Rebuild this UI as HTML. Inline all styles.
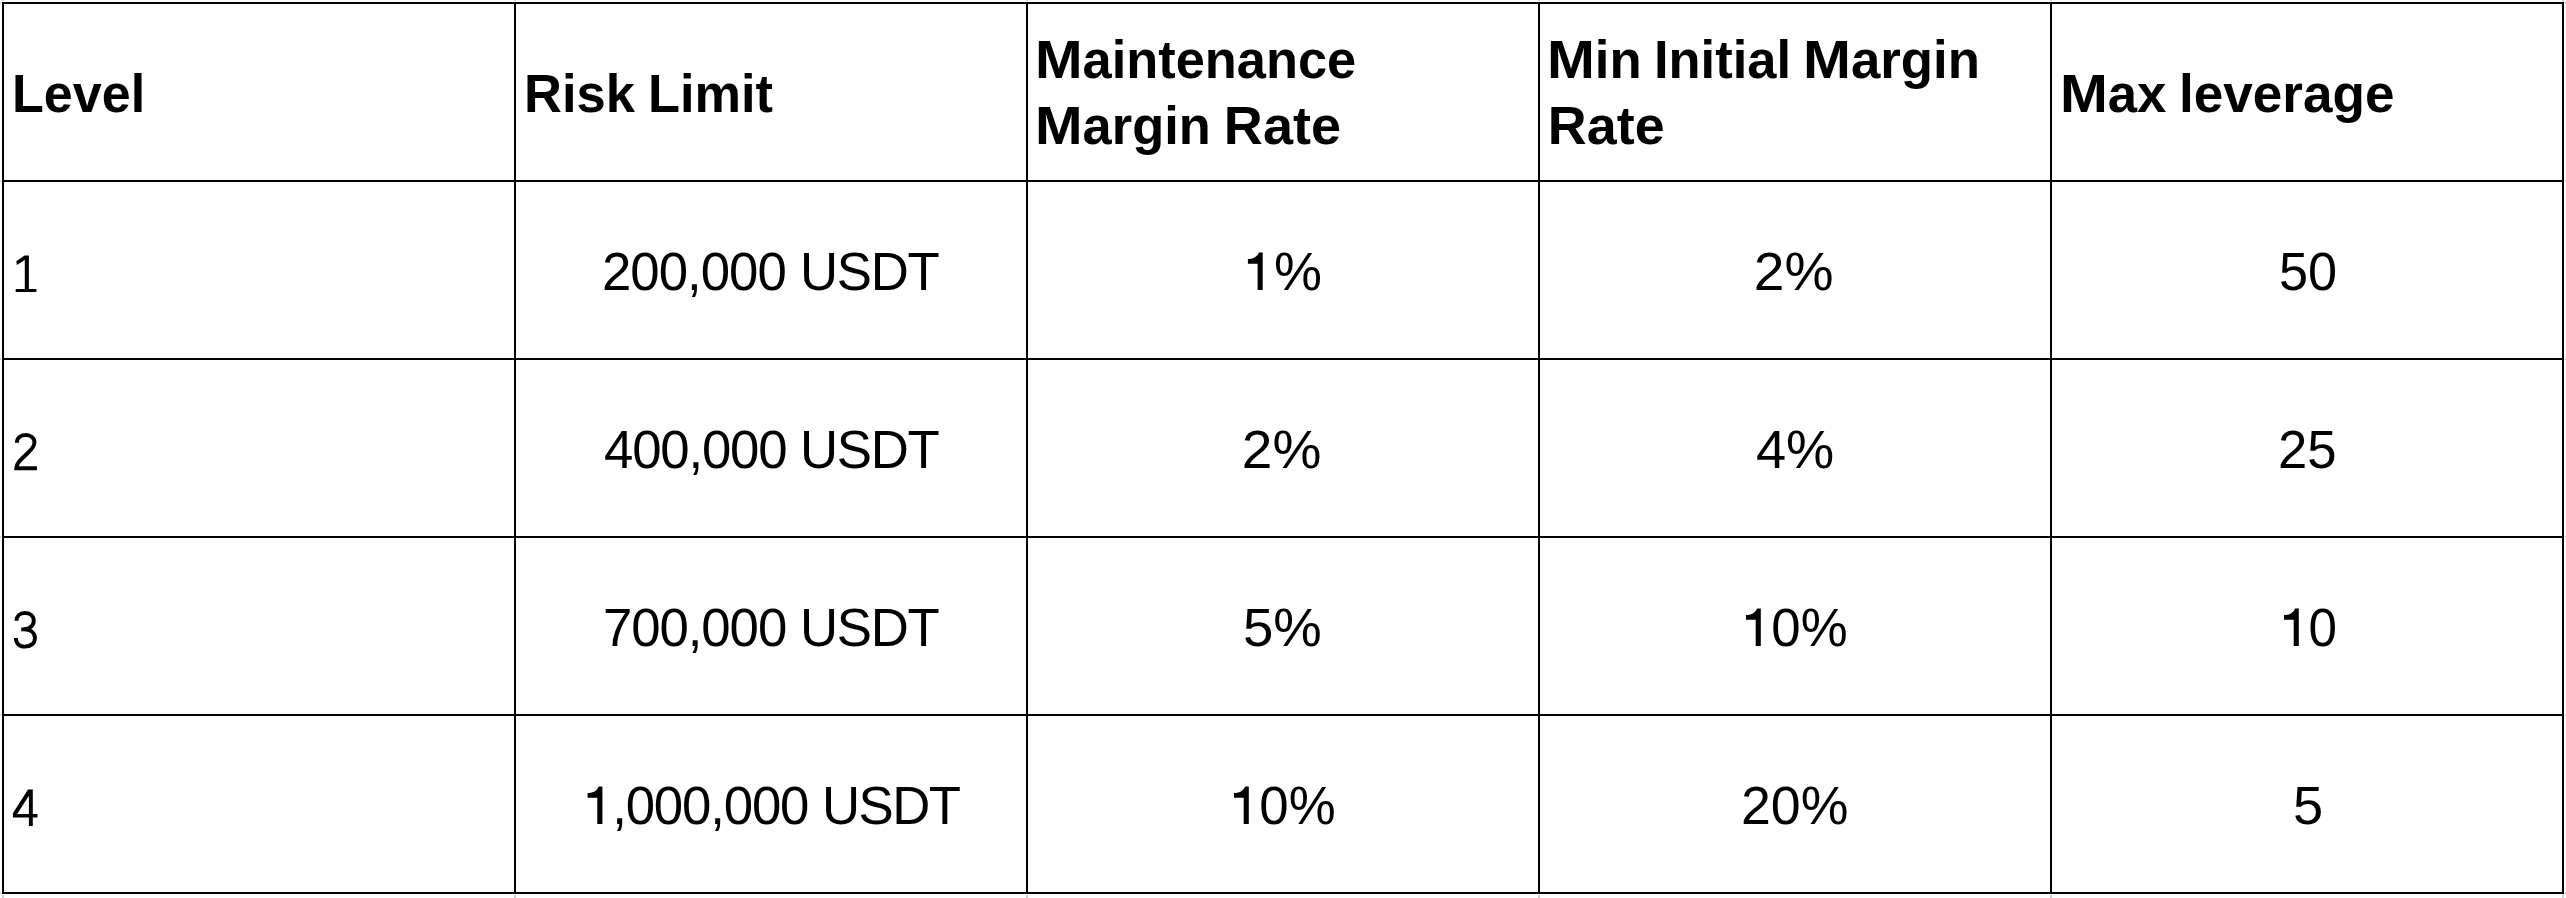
<!DOCTYPE html>
<html><head><meta charset="utf-8"><title>Risk limit table</title>
<style>
html,body{margin:0;padding:0;background:#fff;}
body{width:2566px;height:898px;position:relative;overflow:hidden;font-family:"Liberation Sans",sans-serif;color:#000;}
.l{position:absolute;background:#000;}
.g{position:absolute;background:#d0d0d0;}
.t{position:absolute;white-space:nowrap;line-height:60px;font-size:52px;}
.b{font-weight:bold;}
.M{display:inline-block;transform:scaleX(1.09);transform-origin:0 0;margin-right:3.9px;}
.r{font-weight:normal;}
.dg{position:absolute;left:0;top:0;}
.h{color:transparent;}
</style></head><body>
<div class="l" style="left:2px;top:2px;width:2px;height:892px"></div>
<div class="l" style="left:514px;top:2px;width:2px;height:892px"></div>
<div class="l" style="left:1026px;top:2px;width:2px;height:892px"></div>
<div class="l" style="left:1538px;top:2px;width:2px;height:892px"></div>
<div class="l" style="left:2050px;top:2px;width:2px;height:892px"></div>
<div class="l" style="left:2562px;top:2px;width:2px;height:892px"></div>
<div class="l" style="left:2px;top:2px;width:2562px;height:2px"></div>
<div class="l" style="left:2px;top:180px;width:2562px;height:2px"></div>
<div class="l" style="left:2px;top:358px;width:2562px;height:2px"></div>
<div class="l" style="left:2px;top:536px;width:2562px;height:2px"></div>
<div class="l" style="left:2px;top:714px;width:2562px;height:2px"></div>
<div class="l" style="left:2px;top:892px;width:2562px;height:2px"></div>
<div class="g" style="left:2px;top:0;width:2px;height:1px"></div>
<div class="g" style="left:2px;top:895px;width:2px;height:3px"></div>
<div class="g" style="left:514px;top:0;width:2px;height:1px"></div>
<div class="g" style="left:514px;top:895px;width:2px;height:3px"></div>
<div class="g" style="left:1026px;top:0;width:2px;height:1px"></div>
<div class="g" style="left:1026px;top:895px;width:2px;height:3px"></div>
<div class="g" style="left:1538px;top:0;width:2px;height:1px"></div>
<div class="g" style="left:1538px;top:895px;width:2px;height:3px"></div>
<div class="g" style="left:2050px;top:0;width:2px;height:1px"></div>
<div class="g" style="left:2050px;top:895px;width:2px;height:3px"></div>
<div class="g" style="left:2562px;top:0;width:2px;height:1px"></div>
<div class="g" style="left:2562px;top:895px;width:2px;height:3px"></div>
<div class="g" style="left:0;top:2px;width:1px;height:2px"></div>
<div class="g" style="left:2565px;top:2px;width:1px;height:2px"></div>
<div class="g" style="left:0;top:180px;width:1px;height:2px"></div>
<div class="g" style="left:2565px;top:180px;width:1px;height:2px"></div>
<div class="g" style="left:0;top:358px;width:1px;height:2px"></div>
<div class="g" style="left:2565px;top:358px;width:1px;height:2px"></div>
<div class="g" style="left:0;top:536px;width:1px;height:2px"></div>
<div class="g" style="left:2565px;top:536px;width:1px;height:2px"></div>
<div class="g" style="left:0;top:714px;width:1px;height:2px"></div>
<div class="g" style="left:2565px;top:714px;width:1px;height:2px"></div>
<div class="g" style="left:0;top:892px;width:1px;height:2px"></div>
<div class="g" style="left:2565px;top:892px;width:1px;height:2px"></div>
<div class="t b" style="left:11.70px;top:64px;transform-origin:3.50px 48px;transform:translateY(-0.10px) scale(1.0012,1.03);">Level</div>
<div class="t b" style="left:523.60px;top:64px;transform-origin:3.50px 48px;transform:translateY(-0.10px) scale(1.0099,1.03);">Risk</div>
<div class="t b" style="left:647.50px;top:64px;transform-origin:3.50px 48px;transform:translateY(-0.10px) scale(1.0058,1.03);">Limit</div>
<div class="t b" style="left:1035.25px;top:30px;transform-origin:3.75px 48px;transform:translateY(0.00px) scale(1.0075,1.03);"><span class="M">M</span>aintenance</div>
<div class="t b" style="left:1035.25px;top:96px;transform-origin:3.75px 48px;transform:translateY(0.10px) scale(1.0081,1.03);"><span class="M">M</span>argin</div>
<div class="t b" style="left:1223.70px;top:96px;transform-origin:3.50px 48px;transform:translateY(0.10px) scale(1.0391,1.03);">Rate</div>
<div class="t b" style="left:1547.15px;top:30px;transform-origin:3.75px 48px;transform:translateY(0.00px) scale(1.0139,1.03);"><span class="M">M</span>in</div>
<div class="t b" style="left:1653.70px;top:30px;transform-origin:3.50px 48px;transform:translateY(0.00px) scale(1.0093,1.03);">Initial</div>
<div class="t b" style="left:1803.15px;top:30px;transform-origin:3.75px 48px;transform:translateY(0.00px) scale(1.0152,1.03);"><span class="M">M</span>argin</div>
<div class="t b" style="left:1547.90px;top:96px;transform-origin:3.50px 48px;transform:translateY(0.10px) scale(1.0363,1.03);">Rate</div>
<div class="t b" style="left:2059.65px;top:64px;transform-origin:3.75px 48px;transform:translateY(-0.10px) scale(1.0134,1.03);"><span class="M">M</span>ax</div>
<div class="t b" style="left:2178.85px;top:64px;transform-origin:3.75px 48px;transform:translateY(-0.10px) scale(1.0214,1.03);">leverage</div>
<div class="t r" style="left:602.40px;top:242px;transform-origin:2.50px 48px;transform:translateY(-0.10px) scale(1.0150,1.045);letter-spacing:-0.977px;">200,000</div>
<div class="t r" style="left:799.50px;top:242px;transform-origin:4.00px 48px;transform:translateY(-0.10px) scale(1.0150,1.045);letter-spacing:-1.296px;">USDT</div>
<div class="t r" style="left:1243.90px;top:242px;transform-origin:4.00px 48px;transform:translateY(-0.10px) scale(1.0383,1.045);"><span class="h">1</span>%</div>
<div class="t r" style="left:1754.30px;top:242px;transform-origin:2.50px 48px;transform:translateY(-0.10px) scale(1.0615,1.045);">2%</div>
<div class="t r" style="left:2279.00px;top:242px;transform-origin:2.00px 48px;transform:translateY(-0.10px) scale(1.0047,1.045);">50</div>
<div class="t r" style="left:603.65px;top:420px;transform-origin:1.25px 48px;transform:translateY(-0.10px) scale(1.0150,1.045);letter-spacing:-1.186px;">400,000</div>
<div class="t r" style="left:799.50px;top:420px;transform-origin:4.00px 48px;transform:translateY(-0.10px) scale(1.0150,1.045);letter-spacing:-1.296px;">USDT</div>
<div class="t r" style="left:1242.40px;top:420px;transform-origin:2.50px 48px;transform:translateY(-0.10px) scale(1.0587,1.045);">2%</div>
<div class="t r" style="left:1755.75px;top:420px;transform-origin:1.25px 48px;transform:translateY(-0.10px) scale(1.0417,1.045);">4%</div>
<div class="t r" style="left:2278.40px;top:420px;transform-origin:2.50px 48px;transform:translateY(-0.10px) scale(1.0141,1.045);">25</div>
<div class="t r" style="left:602.95px;top:598px;transform-origin:2.75px 48px;transform:translateY(-0.10px) scale(1.0150,1.045);letter-spacing:-1.067px;">700,000</div>
<div class="t r" style="left:799.50px;top:598px;transform-origin:4.00px 48px;transform:translateY(-0.10px) scale(1.0150,1.045);letter-spacing:-1.296px;">USDT</div>
<div class="t r" style="left:1243.10px;top:598px;transform-origin:2.00px 48px;transform:translateY(-0.10px) scale(1.0484,1.045);">5%</div>
<div class="t r" style="left:1742.00px;top:598px;transform-origin:4.00px 48px;transform:translateY(-0.10px) scale(1.0158,1.045);"><span class="h">1</span>0%</div>
<div class="t r" style="left:2280.00px;top:598px;transform-origin:4.00px 48px;transform:translateY(-0.10px) scale(0.9855,1.045);"><span class="h">1</span>0</div>
<div class="t r" style="left:583.60px;top:776px;transform-origin:4.00px 48px;transform:translateY(-0.10px) scale(1.0150,1.045);letter-spacing:-1.149px;"><span class="h">1</span>,000,000</div>
<div class="t r" style="left:821.70px;top:776px;transform-origin:4.00px 48px;transform:translateY(-0.10px) scale(1.0150,1.045);letter-spacing:-1.493px;">USDT</div>
<div class="t r" style="left:1230.00px;top:776px;transform-origin:4.00px 48px;transform:translateY(-0.10px) scale(1.0158,1.045);"><span class="h">1</span>0%</div>
<div class="t r" style="left:1740.50px;top:776px;transform-origin:2.50px 48px;transform:translateY(-0.10px) scale(1.0326,1.045);">20%</div>
<div class="t r" style="left:2293.20px;top:776px;transform-origin:2.00px 48px;transform:translateY(-0.10px) scale(1.0424,1.045);">5</div>
<svg class="dg" width="2566" height="898" viewBox="0 0 2566 898">
<path d="M28.9 255.5 L24.6 255.5 L16.35 261.3 L16.8 265 L24.8 260.1 L24.8 289.1 L15.7 289.1 L15.7 292 L36.4 292 L36.4 289.1 L28.9 289.1 Z" fill="#000"/>
<path d="M16.9 442.7 C16.9 438.2 20.2 434.95 25.6 434.95 C30.8 434.95 34.45 438 34.45 442.6 C34.45 446.5 32 449.3 27.5 453.3 L21.5 459 C18.5 461.9 16.6 464.6 16.3 468.2 L36.95 468.2" fill="none" stroke="#000" stroke-width="3.9" stroke-linejoin="miter" stroke-miterlimit="6"/>
<path d="M16.5 620.7 C16.5 616.2 19.9 612.95 24.8 612.95 C29.9 612.95 33.75 615.8 33.75 620.6 C33.75 625.6 29.8 629 24 629.3 L21.25 629.35 M24 629.35 C30.5 629.4 34.95 632.8 34.95 638.3 C34.95 643.4 30.6 646.6 24.8 646.6 C19.3 646.6 15.9 643.2 15.9 638.1" fill="none" stroke="#000" stroke-width="3.9"/>
<path fill-rule="evenodd" d="M32.8 789.5 L28 789.5 L12.9 813.2 L12.9 817.4 L28.9 817.4 L28.9 826 L32.8 826 L32.8 817.4 L37.5 817.4 L37.5 814 L32.8 814 Z M28.9 795.8 L17.2 814 L28.9 814 Z" fill="#000"/>
<path d="M1247.90 259.10 C1252.40 259.00 1256.90 257.40 1259.00 252.40 L1262.70 252.40 L1262.70 289.90 L1257.60 289.90 L1257.60 263.70 L1247.90 263.70 Z" fill="#000"/>
<path d="M1746.00 615.10 C1750.50 615.00 1755.00 613.40 1757.10 608.40 L1760.80 608.40 L1760.80 645.90 L1755.70 645.90 L1755.70 619.70 L1746.00 619.70 Z" fill="#000"/>
<path d="M2284.00 615.10 C2288.50 615.00 2293.00 613.40 2295.10 608.40 L2298.80 608.40 L2298.80 645.90 L2293.70 645.90 L2293.70 619.70 L2284.00 619.70 Z" fill="#000"/>
<path d="M587.60 793.10 C592.10 793.00 596.60 791.40 598.70 786.40 L602.40 786.40 L602.40 823.90 L597.30 823.90 L597.30 797.70 L587.60 797.70 Z" fill="#000"/>
<path d="M1234.00 793.10 C1238.50 793.00 1243.00 791.40 1245.10 786.40 L1248.80 786.40 L1248.80 823.90 L1243.70 823.90 L1243.70 797.70 L1234.00 797.70 Z" fill="#000"/>
</svg>
</body></html>
